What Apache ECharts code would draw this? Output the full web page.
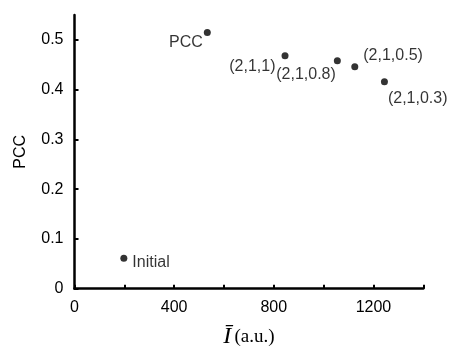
<!DOCTYPE html>
<html>
<head>
<meta charset="utf-8">
<script src="https://cdn.jsdelivr.net/npm/echarts@6/dist/echarts.min.js"></script>
<style>
	html, body { margin: 0; padding: 0; background: #fff; }
	#main { width: 474px; height: 354px; }
</style>
</head>
<body>
<div id="main"></div>
<script>
// point data
var point_names = ['Initial', 'PCC', '(2,1,1)', '(2,1,0.8)', '(2,1,0.5)', '(2,1,0.3)'];
var intensity = [198, 533, 845, 1055, 1125, 1244];
var pcc = [0.061, 0.515, 0.468, 0.458, 0.446, 0.416];

var x_label_values = [0, 400, 800, 1200];
var y_tick_values = [0, 0.1, 0.2, 0.3, 0.4, 0.5];

// where each label sits around its dot
var label_place = {
	'Initial': { position: 'right', distance: 5, offset: [0, 4] },
	'PCC': { position: 'left', distance: 1, offset: [0, 10] },
	'(2,1,1)': { position: 'left', distance: 6, offset: [0, 11] },
	'(2,1,0.8)': { position: 'left', distance: -2, offset: [0, 14] },
	'(2,1,0.5)': { position: 'right', distance: 5, offset: [0, -11] },
	'(2,1,0.3)': { position: 'right', distance: 0, offset: [0, 17] }
};

var font = '"Liberation Sans", Arial, sans-serif';

var chart = echarts.init(document.getElementById('main'), null, { renderer: 'canvas' });

var points = [];
for (var i = 0; i < point_names.length; i++) {
	var p = label_place[point_names[i]];
	points.push({
		value: [intensity[i], pcc[i]],
		name: point_names[i],
		label: {
			show: true,
			position: p.position,
			distance: p.distance,
			offset: p.offset
		}
	});
}

var option = {
	animation: false,
	backgroundColor: '#fff',
	grid: {
		left: 74.5,
		right: 50.7,
		top: 15,
		bottom: 65.3,
		containLabel: false
	},
	xAxis: {
		type: 'value',
		min: 0,
		max: 1400,
		interval: 200,
		name: '{i|I\u0304} {u|(a.u.)}',
		nameLocation: 'middle',
		nameGap: 36,
		nameTextStyle: {
			color: '#000',
			rich: {
				i: { fontFamily: '"Liberation Serif", "Times New Roman", serif', fontStyle: 'italic', fontSize: 24, color: '#000' },
				u: { fontFamily: '"Liberation Serif", "Times New Roman", serif', fontSize: 19, color: '#000' }
			}
		},
		axisLine: { show: true, lineStyle: { color: '#000', width: 2.5 } },
		axisTick: { show: true, inside: true, length: 4, lineStyle: { color: '#000', width: 2 } },
		axisLabel: {
			customValues: x_label_values,
			formatter: function (v) { return String(v); },
			color: '#000',
			fontSize: 16,
			fontFamily: font,
			margin: 11
		},
		splitLine: { show: false }
	},
	yAxis: {
		type: 'value',
		min: 0,
		max: 0.55,
		name: 'PCC',
		nameLocation: 'middle',
		nameGap: 46,
		nameTextStyle: { color: '#000', fontSize: 16, fontFamily: font },
		axisLine: { show: true, lineStyle: { color: '#000', width: 2.5 } },
		axisTick: { show: true, inside: true, length: 4, customValues: y_tick_values, lineStyle: { color: '#000', width: 2 } },
		axisLabel: {
			customValues: y_tick_values,
			color: '#000',
			fontSize: 16,
			fontFamily: font,
			margin: 11
		},
		splitLine: { show: false }
	},
	series: [{
		type: 'scatter',
		symbol: 'circle',
		symbolSize: 7,
		itemStyle: { color: '#000' },
		label: {
			color: '#000',
			fontSize: 16,
			fontFamily: font,
			formatter: '{b}'
		},
		data: points
	}]
};

chart.setOption(option);
</script>
</body>
</html>
